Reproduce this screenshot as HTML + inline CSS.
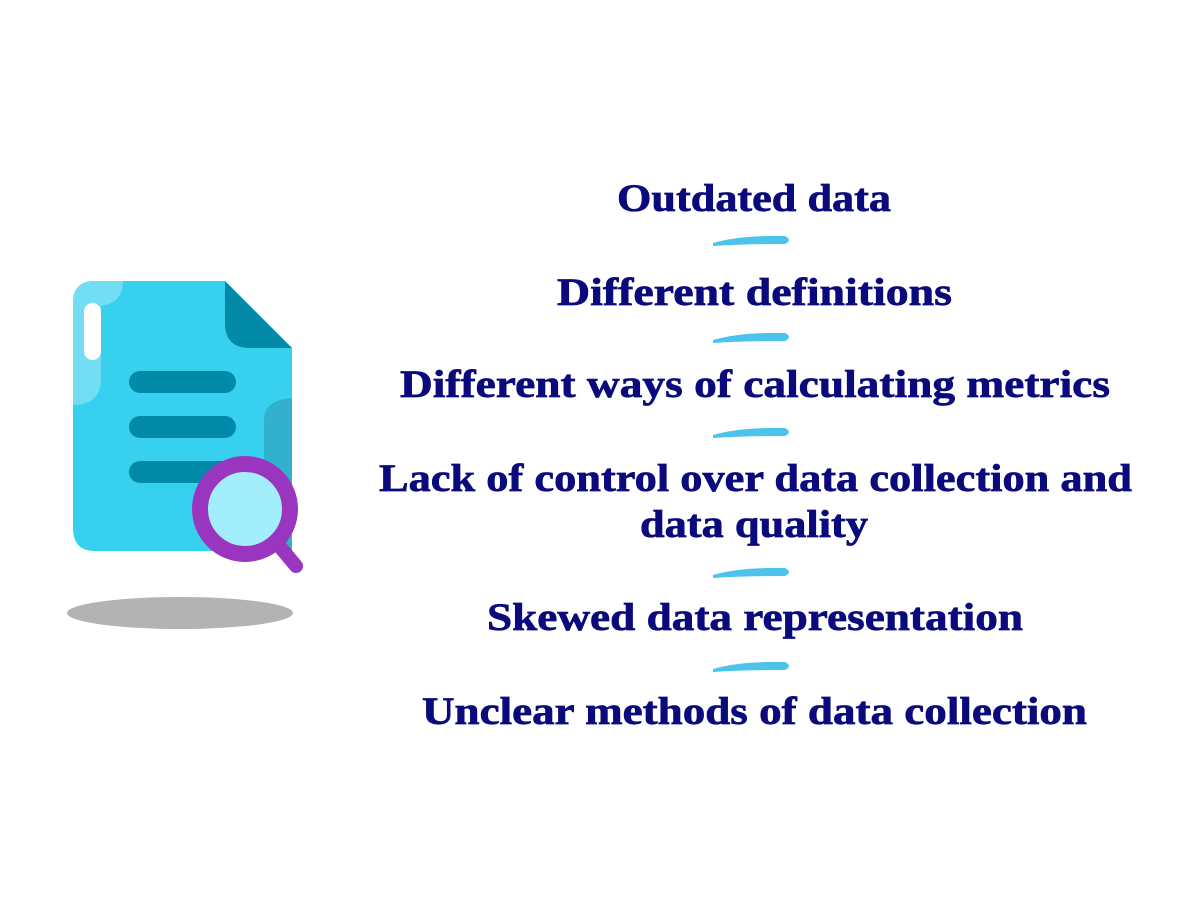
<!DOCTYPE html>
<html><head><meta charset="utf-8"><style>
html,body{margin:0;padding:0;background:#fff;}
svg{display:block}
text{font-family:"Liberation Serif",serif;font-weight:bold;font-size:39px;fill:#0a0a7c;stroke:#0a0a7c;stroke-width:0.7px;}
</style></head><body>
<svg width="1200" height="900" viewBox="0 0 1200 900" xmlns="http://www.w3.org/2000/svg">
<rect width="1200" height="900" fill="#fff"/>
<ellipse cx="180" cy="613" rx="113" ry="16" fill="#b3b3b3"/>
<path d="M95 281 H225 L292 348 V528 Q292 551 270 551 H95 Q73 551 73 528 V303 Q73 281 95 281 Z" fill="#38d0ef"/>
<path d="M73 303 Q73 281 95 281 H123 Q123 303 101 306 V378 Q101 405 73 405 Z" fill="#72ddf3"/>
<path d="M264 420 Q264 400 292 398 V551 H264 Z" fill="#31b1cd"/>
<path d="M225 281 L292 348 H250 Q225 348 225 323 Z" fill="#008aa8"/>
<rect x="84" y="303" width="17" height="57" rx="8.5" fill="#fff"/>
<rect x="129" y="371" width="107" height="22" rx="11" fill="#008aa8"/>
<rect x="129" y="416" width="107" height="22" rx="11" fill="#008aa8"/>
<rect x="129" y="461" width="107" height="22" rx="11" fill="#008aa8"/>
<line x1="270" y1="535" x2="296" y2="566" stroke="#9a35c0" stroke-width="14" stroke-linecap="round"/>
<circle cx="245" cy="509" r="45" fill="#a3eefd" stroke="#9a35c0" stroke-width="16"/>
<text x="617" y="211" textLength="274" lengthAdjust="spacingAndGlyphs">Outdated data</text>
<text x="557" y="305" textLength="395" lengthAdjust="spacingAndGlyphs">Different definitions</text>
<text x="400" y="397" textLength="710" lengthAdjust="spacingAndGlyphs">Different ways of calculating metrics</text>
<text x="379" y="491" textLength="753" lengthAdjust="spacingAndGlyphs">Lack of control over data collection and</text>
<text x="640" y="537" textLength="228" lengthAdjust="spacingAndGlyphs">data quality</text>
<text x="487" y="630" textLength="536" lengthAdjust="spacingAndGlyphs">Skewed data representation</text>
<text x="422" y="724" textLength="665" lengthAdjust="spacingAndGlyphs">Unclear methods of data collection</text>
<g fill="#4cc3ea">
<path d="M713 243 Q740 235 785 236 Q793 240 785 244 Q745 244 713 246 Z"/>
<path d="M713 340 Q740 332 785 333 Q793 337 785 341 Q745 341 713 343 Z"/>
<path d="M713 435 Q740 427 785 428 Q793 432 785 436 Q745 436 713 438 Z"/>
<path d="M713 575 Q740 567 785 568 Q793 572 785 576 Q745 576 713 578 Z"/>
<path d="M713 669 Q740 661 785 662 Q793 666 785 670 Q745 670 713 672 Z"/>
</g>
</svg>
</body></html>
